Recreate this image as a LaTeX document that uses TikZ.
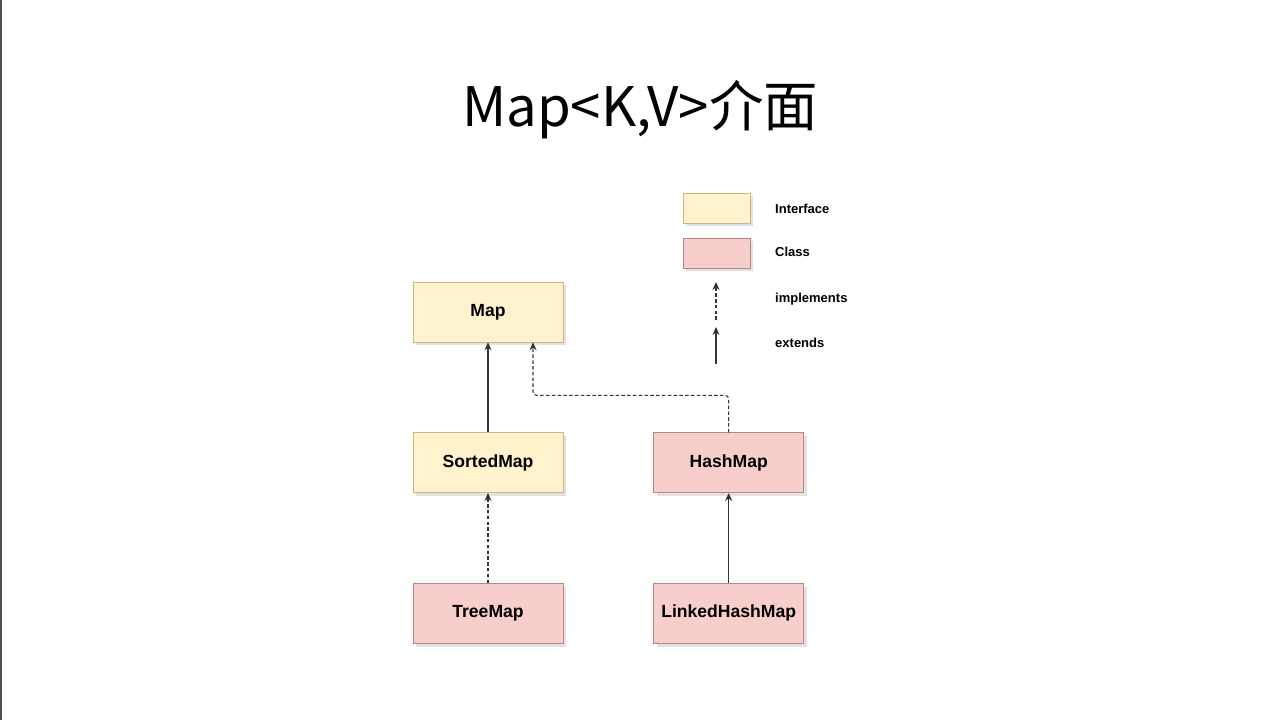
\documentclass[tikz,border=0pt]{standalone}
\usepackage{fontspec}
\setmainfont{Liberation Sans}
\newfontfamily\cjk{Noto Sans CJK TC}
\usepackage{xcolor}
\definecolor{ifill}{HTML}{FFF2CC}
\definecolor{idraw}{HTML}{CDB77A}
\definecolor{cfill}{HTML}{F8CECC}
\definecolor{cdraw}{HTML}{B88582}
\definecolor{lnk}{HTML}{333333}
\usepackage{tikz}
\usetikzlibrary{arrows.meta, positioning, shadows}

\begin{document}
\begin{tikzpicture}[
  node distance=1.8cm and 1.8cm,
  box/.style={rectangle, minimum width=3cm, minimum height=1.2cm,
              align=center, font=\fontsize{10}{12}\selectfont\bfseries,
              drop shadow={shadow xshift=1.8pt,
                           shadow yshift=-1.8pt, fill=gray!45}},
  iface/.style={box, fill=ifill, draw=idraw},
  klass/.style={box, fill=cfill, draw=cdraw},
  keybox/.style={minimum width=1.34cm, minimum height=0.6cm},
  keytxt/.style={anchor=west, font=\fontsize{7.4}{9}\selectfont\bfseries},
  ext/.style={-{Stealth[length=4.5pt, width=4pt]}, color=lnk, line width=0.6pt},
  impl/.style={ext, dash pattern=on 2pt off 1.3pt}
]
  \useasboundingbox (0,0) rectangle (25.6,14.4);
  \draw[black!70, line width=0.9pt] (0.02,0) -- (0.02,14.4);

  % title
  \node[font=\cjk\fontsize{31}{36}\selectfont] (title) at (12.8,12.2)
    {Map<K,V>介面};

  % hierarchy
  \node[iface] (map) at (9.76,8.16) {Map};
  \node[iface, below=1.8cm of map] (sortedmap) {SortedMap};
  \node[klass, right=1.8cm of sortedmap] (hashmap) {HashMap};
  \node[klass, below=1.8cm of sortedmap] (treemap) {TreeMap};
  \node[klass, below=1.8cm of hashmap] (linkedhashmap) {LinkedHashMap};

  \draw[ext] (sortedmap) -- (map);
  \draw[impl, rounded corners=2pt] (hashmap.north) -- ++(0,0.74)
    -| ([xshift=0.9cm]map.south);
  \draw[impl] (treemap) -- (sortedmap);
  \draw[ext] (linkedhashmap) -- (hashmap);

  % legend
  \node[iface, keybox] (keyiface) at (14.33,10.24) {};
  \node[klass, keybox] (keyclass) at (14.33,9.34) {};
  \node[keytxt] (txtiface) at (15.38,10.22) {Interface};
  \node[keytxt] (txtclass) at (15.38,9.36) {Class};
  \node[keytxt] (txtimpl) at (15.38,8.42) {implements};
  \node[keytxt] (txtext) at (15.38,7.54) {extends};
  \coordinate (implfrom) at (14.32,8.0);
  \coordinate (implto) at (14.32,8.76);
  \coordinate (extfrom) at (14.32,7.12);
  \coordinate (extto) at (14.32,7.86);
  \draw[impl] (implfrom) -- (implto);
  \draw[ext] (extfrom) -- (extto);
\end{tikzpicture}
\end{document}
